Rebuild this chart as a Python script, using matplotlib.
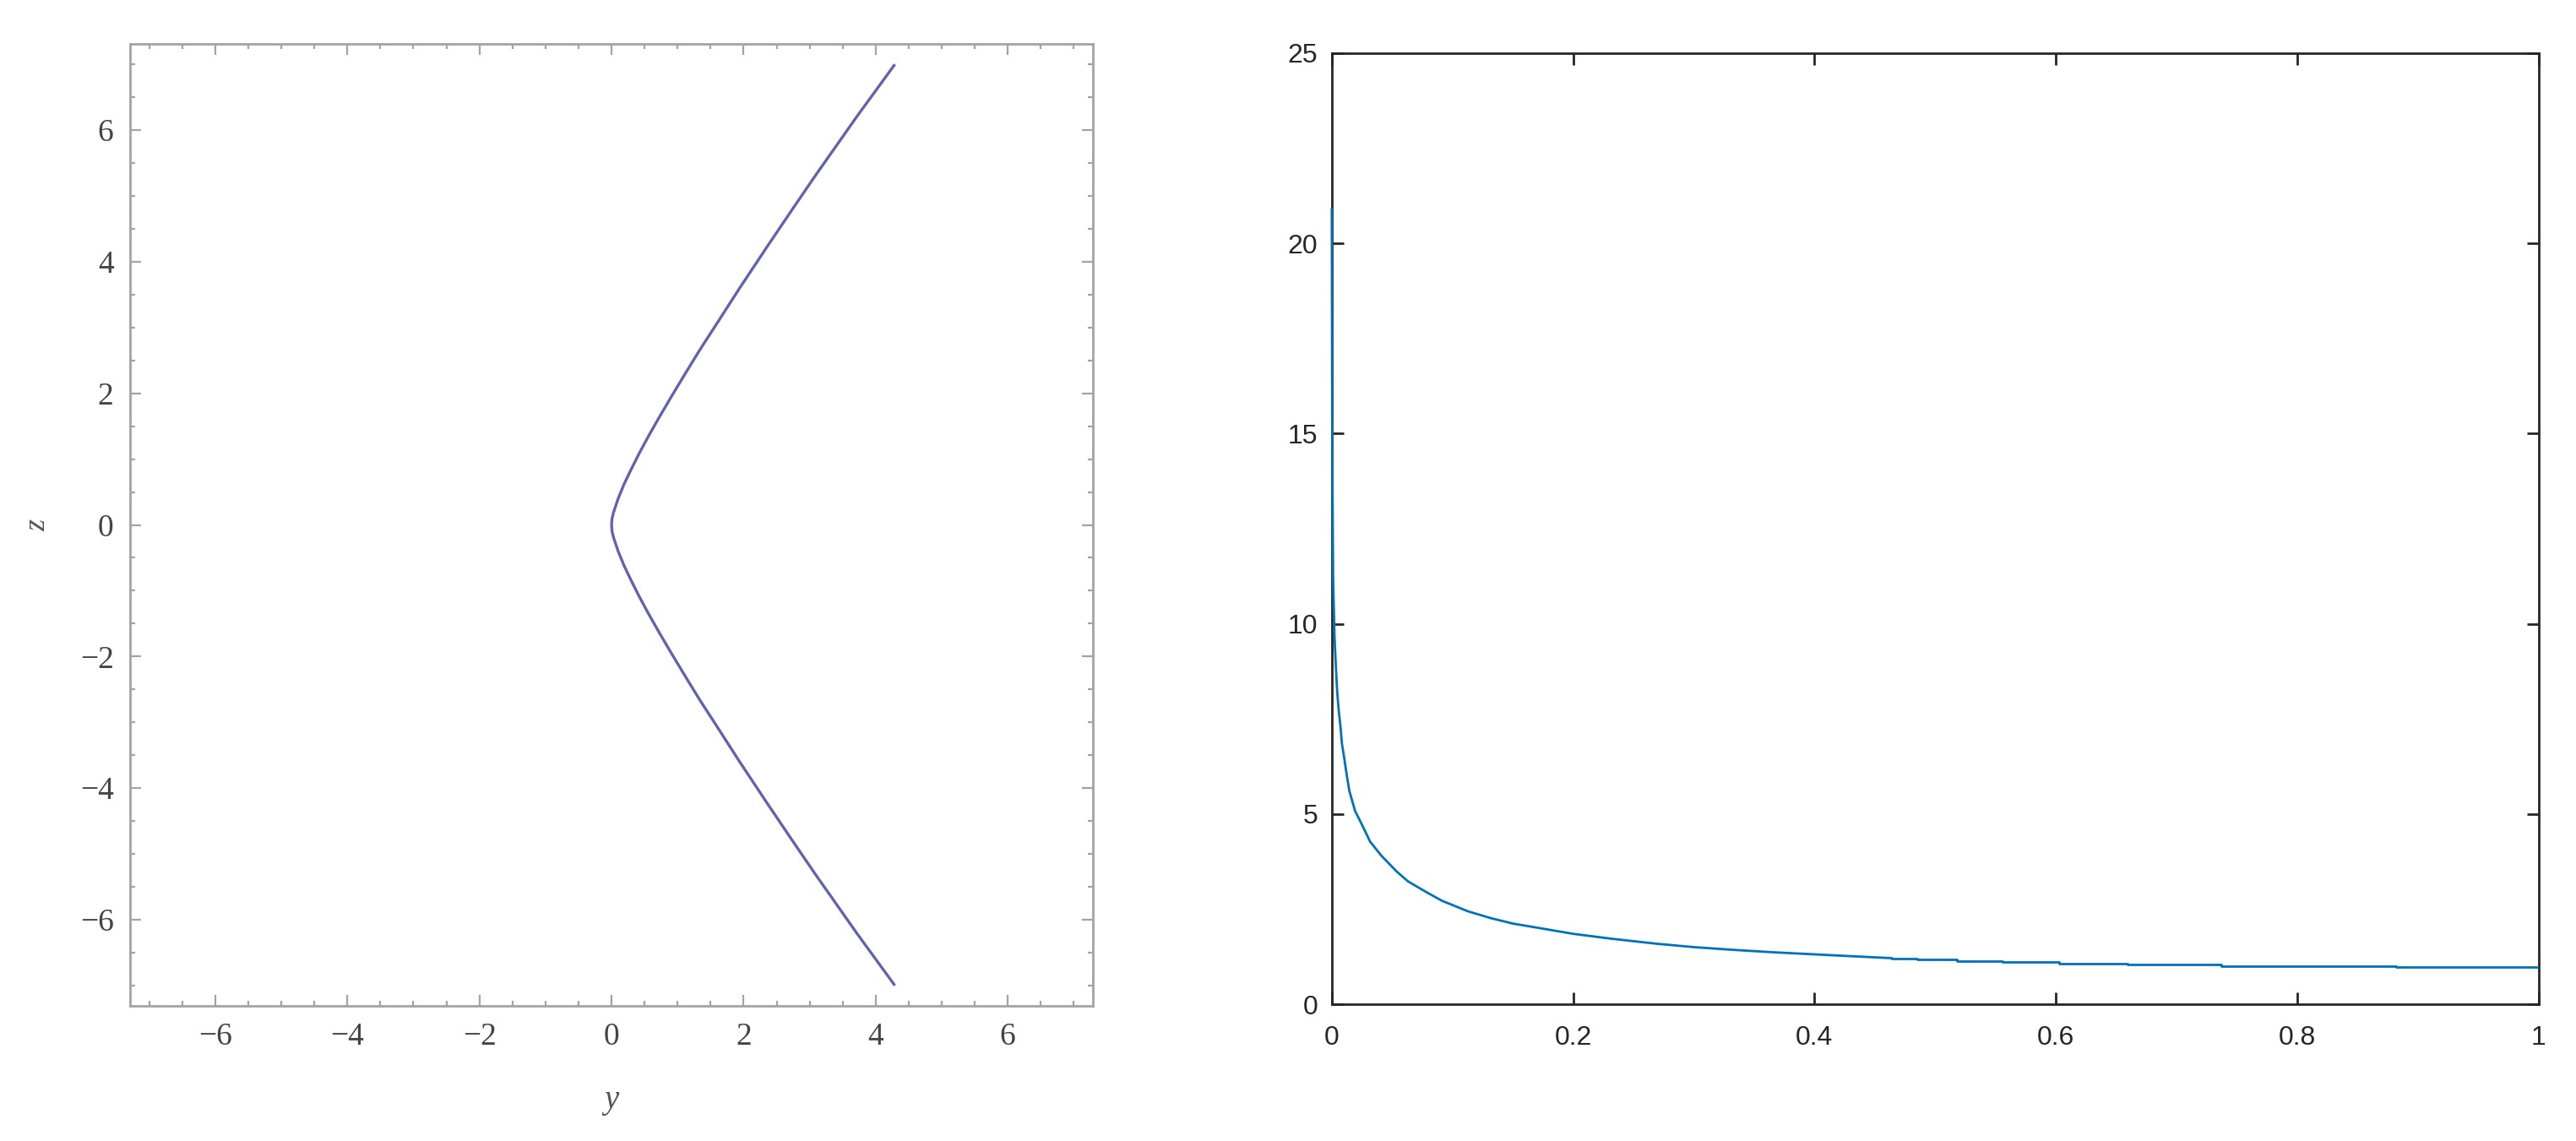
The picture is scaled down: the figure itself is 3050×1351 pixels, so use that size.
import numpy as np
import matplotlib
matplotlib.use('Agg')
import matplotlib.pyplot as plt
from matplotlib.ticker import MultipleLocator

# left panel: curve y(z)
branch_z = [-7.0, -6.6, -6.2, -5.8, -5.3, -4.8, -4.25, -3.6, -3.1, -2.65, -2.29, -1.94,
            -1.65, -1.35, -1.09, -0.83, -0.62, -0.4, -0.19, -0.1, 0.0,
            0.1, 0.19, 0.4, 0.62, 0.83, 1.09, 1.35, 1.65, 1.94, 2.29, 2.65,
            3.1, 3.6, 4.25, 4.8, 5.3, 5.8, 6.2, 6.6, 7.0]
branch_y = [4.29, 4.00, 3.71, 3.43, 3.08, 2.74, 2.37, 1.94, 1.62, 1.33, 1.11, 0.90,
            0.73, 0.56, 0.42, 0.29, 0.19, 0.10, 0.03, 0.008, 0.0,
            0.008, 0.03, 0.10, 0.19, 0.29, 0.42, 0.56, 0.73, 0.90, 1.11, 1.33,
            1.62, 1.94, 2.37, 2.74, 3.08, 3.43, 3.71, 4.00, 4.29]
left_ticks = [-6, -4, -2, 0, 2, 4, 6]

# right panel: decaying curve, head drawn as a line, tail as flat steps
head_x = [0.0, 0.0004, 0.0011, 0.0022, 0.0035, 0.0045, 0.0058, 0.0072, 0.0084, 0.0104,
          0.0125, 0.0146, 0.0193, 0.0256, 0.0318, 0.0412, 0.0537, 0.0631, 0.0787,
          0.0912, 0.113, 0.132, 0.150, 0.176, 0.2, 0.232, 0.269, 0.300, 0.332,
          0.363, 0.4, 0.4255, 0.464]
head_y = [20.9, 14.5, 11.2, 9.7, 8.8, 8.2, 7.7, 7.3, 6.85, 6.45,
          6.0, 5.6, 5.08, 4.68, 4.27, 3.90, 3.49, 3.23, 2.94,
          2.72, 2.44, 2.26, 2.12, 1.98, 1.85, 1.72, 1.59, 1.50, 1.43,
          1.37, 1.31, 1.27, 1.21]
tail_x = [0.464, 0.485, 0.518, 0.556, 0.603, 0.659, 0.737, 0.882, 1.0]
tail_y = [1.21, 1.175, 1.14, 1.10, 1.07, 1.035, 1.00, 0.98, 0.98]
right_xticks = [0, 0.2, 0.4, 0.6, 0.8, 1]
right_xlabels = ['0', '0.2', '0.4', '0.6', '0.8', '1']
right_yticks = [0, 5, 10, 15, 20, 25]

fig = plt.figure(figsize=(15.25, 6.755), dpi=200)

# ---- left (Mathematica-like frame)
frame_gray = '#a3a3a3'
ax1 = fig.add_axes([0.0505, 0.1184, 0.3738, 0.8431])
ax1.plot(branch_y, branch_z, color='#6262b2', lw=1.2, solid_capstyle='butt',
         solid_joinstyle='round')
ax1.set_xlim(-7.29, 7.29)
ax1.set_ylim(-7.31, 7.31)
ax1.set_xticks(left_ticks)
ax1.set_yticks(left_ticks)
ax1.xaxis.set_minor_locator(MultipleLocator(0.5))
ax1.yaxis.set_minor_locator(MultipleLocator(0.5))
for s in ax1.spines.values():
    s.set_color(frame_gray)
    s.set_linewidth(1.0)
ax1.tick_params(which='both', direction='in', top=True, right=True,
                color=frame_gray, width=0.8)
ax1.tick_params(which='major', length=4.7, labelsize=13.5, labelcolor='#444444', pad=7)
ax1.tick_params(which='minor', length=2.2)
for lab in ax1.get_xticklabels() + ax1.get_yticklabels():
    lab.set_family(['Liberation Serif', 'DejaVu Serif'])
ax1.set_xlabel('y', fontsize=14, style='italic', family='Liberation Serif',
               color='#555555', labelpad=14)
ax1.set_ylabel('z', fontsize=13, style='italic', family='Liberation Serif',
               color='#555555', labelpad=12)

# ---- right (MATLAB-like)
dark = '#262626'
ax2 = fig.add_axes([0.5170, 0.1199, 0.4685, 0.8335])
ax2.plot(head_x, head_y, color='#0072BD', lw=1.0, zorder=3, clip_on=False)
ax2.step(tail_x, tail_y, where='post', color='#0072BD', lw=1.0, zorder=3)
ax2.set_xlim(0, 1)
ax2.set_ylim(0, 25)
ax2.set_xticks(right_xticks)
ax2.set_xticklabels(right_xlabels)
ax2.set_yticks(right_yticks)
for s in ax2.spines.values():
    s.set_color(dark)
    s.set_linewidth(1.0)
ax2.tick_params(direction='in', top=True, right=True, length=5, width=1.0,
                color=dark, labelcolor=dark, labelsize=11.5)
ax2.tick_params(axis='x', pad=9)
ax2.tick_params(axis='y', pad=6)
for lab in ax2.get_xticklabels() + ax2.get_yticklabels():
    lab.set_family(['Liberation Sans', 'DejaVu Sans'])

fig.savefig('out.png', dpi=200, facecolor='white')
